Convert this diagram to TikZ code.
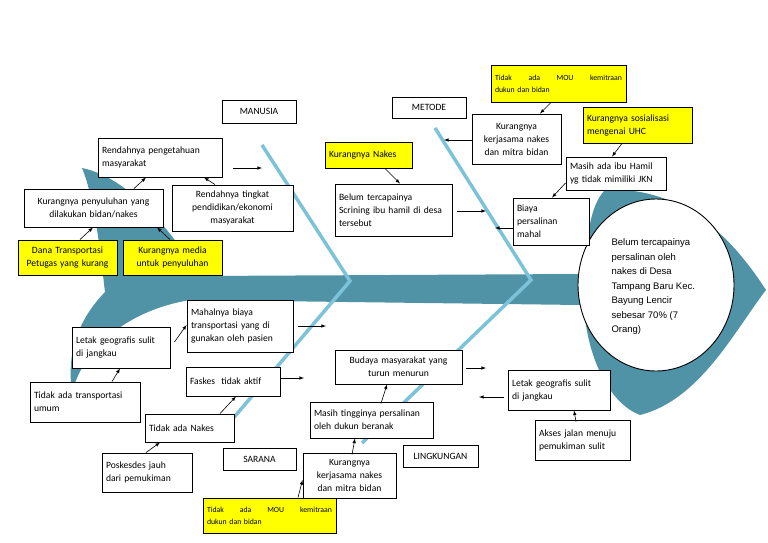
\documentclass[tikz,border=0pt]{standalone}
\usetikzlibrary{shapes.geometric}
\usepackage{fontspec}
\setmainfont{Carlito}
\newfontfamily\arialf{Liberation Sans}
\definecolor{fish}{HTML}{5093A7}
\definecolor{bone}{HTML}{7CC3DA}
\definecolor{yel}{HTML}{FFFF00}
\begin{document}
\begin{tikzpicture}[x=1pt,y=-1pt,
  box/.style={draw,fill=white,line width=0.9pt,inner xsep=4pt,inner ysep=1pt,font=\fontsize{9.6}{13}\selectfont,align=left},
  ybox/.style={box,fill=yel},
  arr/.style={-latex,line width=0.6pt},
  bonel/.style={bone,line width=3.5pt}]
\useasboundingbox (0,0) rectangle (768,543);
\newcommand\bx[7]{\pgfmathsetmacro\bw{#4-#2}\pgfmathsetmacro\bh{#5-#3}\pgfmathsetmacro\tw{#4-#2-8}%
  \node[#6,minimum width=\bw pt,minimum height=\bh pt,text width=\tw pt] (#1) at ({(#2+#4)/2},{(#3+#5)/2}) {#7};}
% fish
\fill[fish] (82,168) .. controls (130,178) and (170,230) .. (200,276) -- (580,274) -- (580,305) -- (190,300)
  .. controls (130,310) and (85,345) .. (72,392) .. controls (66,350) and (80,318) .. (105,292)
  .. controls (100,250) and (95,200) .. (82,168) -- cycle;
\fill[fish] (605,190) .. controls (690,185) and (740,250) .. (766,290) .. controls (735,330) and (700,400) .. (640,415)
  .. controls (600,400) and (580,330) .. (585,290) .. controls (585,240) and (590,205) .. (605,190) -- cycle;
\node[draw,ellipse,fill=white,line width=0.9pt,minimum width=156pt,minimum height=172pt] (head) at (656,285) {};
\node[font=\arialf\fontsize{9.5}{14.5}\selectfont,align=left,anchor=west] (prob) at (608,287) {Belum tercapainya\\persalinan oleh\\nakes di Desa\\Tampang Baru Kec.\\Bayung Lencir\\sebesar 70\% (7\\Orang)};
% bones
\coordinate (b1t) at (262,145); \coordinate (b1b) at (350,281);
\coordinate (b2t) at (435,128); \coordinate (b2b) at (531,280);
\coordinate (b3b) at (213,442); \coordinate (b4b) at (362,443);
\draw[bonel] (b1t) -- (b1b) -- (b3b);
\draw[bonel] (b2t) -- (b2b) -- (b4b);
% labels
\bx{man}{222}{100}{296}{123}{box,align=center}{MANUSIA}
\bx{met}{392}{97}{466}{118}{box,align=center}{METODE}
\bx{sar}{223}{448}{296}{470}{box,align=center}{SARANA}
\bx{lin}{403}{445}{478}{467}{box,align=center}{LINGKUNGAN}
% top left
\bx{rp}{98}{138}{222}{177}{box}{Rendahnya pengetahuan\\masyarakat}
\bx{kp}{24}{189}{163}{227}{box,align=center}{Kurangnya penyuluhan yang\\dilakukan bidan/nakes}
\bx{rt}{172}{185}{293}{231}{box,align=center}{Rendahnya tingkat\\pendidikan/ekonomi\\masyarakat}
\bx{dana}{18}{240}{117}{275}{ybox,align=center}{Dana Transportasi\\Petugas yang kurang}
\bx{med}{123}{240}{222}{275}{ybox,align=center}{Kurangnya media\\untuk penyuluhan}
\coordinate (m1) at (262,168); \coordinate (m0) at (233,168);
\draw[arr] (m0) -- (m1);
\draw[arr] (kp.north -| 134,0) -- (rp.south -| 146,0);
\draw[arr] (rt.north -| 215,0) -- (rp.south -| 204,0);
\draw[arr] (dana.north -| 80,0) -- (kp.south -| 93,0);
\draw[arr] (med.north -| 170,0) -- (kp.south -| 157,0);
% metode
\bx{kn}{325}{142}{412}{168}{ybox}{Kurangnya Nakes}
\bx{bel}{335}{184}{452}{236}{box}{Belum tercapainya\\Scrining ibu hamil di desa\\tersebut}
\bx{mou1}{491}{65}{626}{102}{ybox,font=\fontsize{7.8}{12}\selectfont}{Tidak\hfill ada\hfill MOU\hfill kemitraan\\dukun dan bidan\\[3pt]}
\bx{kk1}{472}{114}{561}{164}{box,align=center}{Kurangnya\\kerjasama nakes\\dan mitra bidan}
\bx{sos}{583}{107}{692}{143}{ybox}{Kurangnya sosialisasi\\mengenai UHC}
\bx{jkn}{566}{157}{666}{190}{box}{Masih ada ibu Hamil\\yg tidak mimiliki JKN}
\bx{bia}{513}{198}{589}{245}{box}{Biaya\\persalinan\\mahal}
\coordinate (p1) at (444,140); \coordinate (p2) at (486,211); \coordinate (p3) at (495,228);
\draw[arr] (mou1.south -| 551,0) -- (kk1.north -| 540,0);
\draw[arr] (kk1.west |- 0,140) -- (p1);
\draw[arr] (sos.south -| 622,0) -- (jkn.north -| 612,0);
\draw[arr] (jkn.west |- 0,183) -- (bia.north -| 552,0);
\draw[arr] (bia.west |- 0,228) -- (p3);
\draw[arr] (kn.south -| 385,0) -- (bel.north -| 400,0);
\draw[arr] ([xshift=5pt]bel.east |- 0,211) -- (p2);
% sarana
\bx{mah}{187}{300}{293}{352}{box}{Mahalnya biaya\\transportasi yang di\\gunakan oleh pasien}
\bx{lg1}{72}{327}{170}{368}{box}{Letak geografis sulit\\di jangkau}
\bx{tt}{30}{382}{140}{422}{box}{Tidak ada transportasi\\umum}
\bx{fas}{186}{367}{280}{396}{box}{Faskes\ \ tidak aktif}
\bx{tn}{145}{414}{234}{442}{box}{Tidak ada Nakes}
\bx{pos}{102}{453}{192}{492}{box}{Poskesdes jauh\\dari pemukiman}
\coordinate (s1) at (326,326); \coordinate (s2) at (304,378);
\draw[arr] ([xshift=5pt]mah.east |- 0,326) -- (s1);
\draw[arr] ([xshift=4pt]lg1.east |- 0,342) -- (mah.west |- 0,325);
\draw[arr] (tt.north -| 112,0) -- (lg1.south -| 120,0);
\draw[arr] (fas.east |- 0,378) -- (s2);
\draw[arr] (tn.north -| 220,0) -- (fas.south -| 236,0);
\draw[arr] (pos.north -| 146,0) -- (tn.south -| 160,0);
% lingkungan
\bx{bud}{335}{350}{462}{384}{box,align=center}{Budaya masyarakat yang\\turun menurun}
\bx{mt}{310}{402}{433}{438}{box}{Masih tingginya persalinan\\oleh dukun beranak}
\bx{kk2}{303}{453}{396}{498}{box,align=center}{Kurangnya\\kerjasama nakes\\dan mitra bidan}
\bx{mou2}{203}{498}{336}{533}{ybox,font=\fontsize{7.8}{12}\selectfont}{Tidak\hfill ada\hfill MOU\hfill kemitraan\\dukun dan bidan\\[3pt]}
\bx{lg2}{508}{370}{610}{410}{box}{Letak geografis sulit\\di jangkau}
\bx{aks}{535}{420}{630}{460}{box}{Akses jalan menuju\\pemukiman sulit}
\coordinate (l1) at (486,368); \coordinate (l2) at (479,397);
\draw[arr] ([xshift=4pt]bud.east |- 0,368) -- (l1);
\draw[arr] ([yshift=-2pt]mt.north -| 381,0) -- (bud.south -| 387,0);
\draw[arr] ([yshift=-2pt]kk2.north -| 352,0) -- (mt.south -| 355,0);
\draw[arr] (mou2.north -| 298,0) -- (kk2.west |- 0,480);
\draw[arr] ([xshift=-4pt]lg2.west |- 0,397) -- (l2);
\draw[arr] ([yshift=-2pt]aks.north -| 576,0) -- (lg2.south -| 574,0);
\end{tikzpicture}
\end{document}
